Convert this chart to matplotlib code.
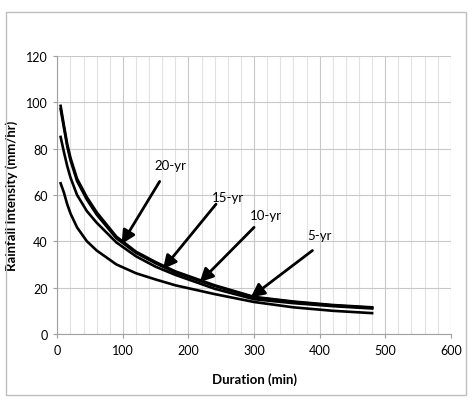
import numpy as np
import matplotlib.pyplot as plt
from matplotlib.patches import Rectangle

plt.rcParams['font.family'] = ['Lato', 'DejaVu Sans']

# durations (min) and rainfall intensities (mm/hr)
duration = [5, 10, 15, 20, 30, 45, 60, 90, 120, 150, 180, 240, 300, 360, 420, 480]
i_5yr = [65, 61, 56, 52, 46, 40, 36, 30, 26.2, 23.5, 21, 17.2, 13.8, 11.5, 10, 9]
i_10yr = [85, 78.5, 72.5, 67.5, 60, 53, 48, 39.5, 33.5, 29, 25.5, 19.5, 15, 13.3, 12, 11]
i_15yr = [97, 89, 81, 75, 66, 58, 51.5, 41.3, 35, 30.5, 26.5, 20.7, 15.8, 13.8, 12.3, 11.3]
i_20yr = [98.4, 90, 82, 76, 67, 59, 52.5, 42, 35.5, 31, 27, 21, 16, 14, 12.5, 11.5]

labels = ['20-yr', '15-yr', '10-yr', '5-yr']
label_xy = [(173, 73), (260, 59), (318, 51.5), (399, 42.7)]
arrow_tail = [(156, 65.8), (242, 56), (300, 46), (389, 36)]
arrow_head = [(98, 38.8), (161, 28), (217, 22.3), (295, 15.8)]

fig = plt.figure(figsize=(4.74, 4.02), dpi=100)
ax = fig.add_axes([0.121, 0.1667, 0.830, 0.692])

for series in [i_5yr, i_10yr, i_15yr, i_20yr]:
    ax.plot(duration, series, color='black', lw=1.9, zorder=3)

for lab, txy, tail, head in zip(labels, label_xy, arrow_tail, arrow_head):
    ax.annotate('', xy=head, xytext=tail,
                arrowprops=dict(arrowstyle='-|>,head_length=0.8,head_width=0.4',
                                color='black', lw=2.0, shrinkA=0, shrinkB=0),
                zorder=4)
    ax.text(txy[0], txy[1], lab, ha='center', va='center', fontsize=9.5)

ax.set_xlim(0, 600)
ax.set_ylim(0, 120)
ax.set_xticks(np.arange(0, 601, 100))
ax.set_xticks(np.arange(0, 601, 20), minor=True)
ax.set_yticks(np.arange(0, 121, 20))
ax.grid(which='major', color='#c8c8c8', lw=0.8)
ax.grid(which='minor', axis='x', color='#e2e2e2', lw=0.8)
ax.tick_params(which='major', length=3, color='#a0a0a0', labelsize=9, pad=4)
ax.tick_params(which='minor', length=0)
for side in ['top', 'right']:
    ax.spines[side].set_visible(False)
for side in ['left', 'bottom']:
    ax.spines[side].set_color('#a0a0a0')

ax.set_xlabel('Duration (min)', fontsize=9.5, fontweight='bold', labelpad=12)
ax.set_ylabel('Rainfall Intensity (mm/hr)', fontsize=9.5, fontweight='bold', labelpad=6)

fig.patches.append(Rectangle((6 / 474, 6 / 402), 460 / 474, 383 / 402,
                             transform=fig.transFigure, fill=False,
                             edgecolor='#bfbfbf', lw=1))

fig.savefig('out.png', dpi=100)
